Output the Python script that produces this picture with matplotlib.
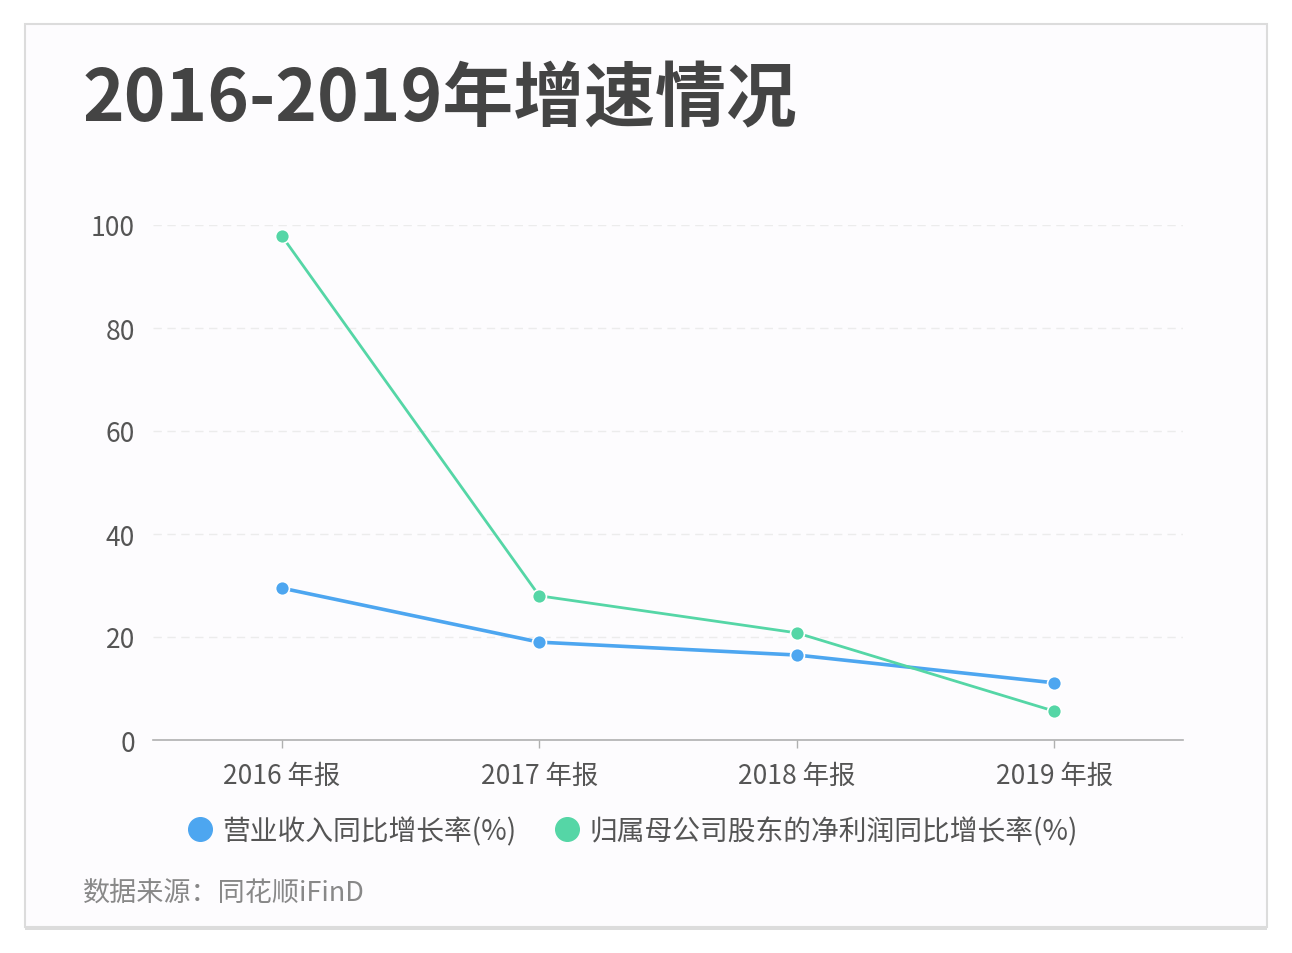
import matplotlib.pyplot as plt
import matplotlib.patches as mpatches
import matplotlib.patheffects as pe
from matplotlib.lines import Line2D

plt.rcParams["font.family"] = ["Noto Sans CJK SC", "DejaVu Sans"]

# Data
categories = ["2016 年报", "2017 年报", "2018 年报", "2019 年报"]
revenue_growth = [29.5, 19.0, 16.5, 11.1]
profit_growth = [97.9, 28.0, 20.8, 5.6]
series_names = ["营业收入同比增长率(%)", "归属母公司股东的净利润同比增长率(%)"]
y_ticks = [0, 20, 40, 60, 80, 100]

BLUE = "#4da6f0"
GREEN = "#55d6a6"
W, H = 1292, 954

fig = plt.figure(figsize=(W / 100, H / 100), dpi=100)
fig.patch.set_facecolor("white")

# card background with soft shadow
card = mpatches.Rectangle(
    (25 / W, 1 - 928 / H), (1267 - 25) / W, (928 - 25) / H,
    transform=fig.transFigure, facecolor="#fdfcfe", edgecolor="#dcdcdc",
    linewidth=1.5, zorder=-10,
    path_effects=[pe.withSimplePatchShadow(offset=(0, -2), shadow_rgbFace="#bbbbbb", alpha=0.5)],
)
fig.patches.append(card)

ax = fig.add_axes([153 / W, 1 - 741 / H, (1183 - 153) / W, (741 - 226) / H])
ax.set_facecolor("none")

x = range(len(categories))
ax.plot(x, revenue_growth, color=BLUE, lw=2.6, marker="o", ms=10,
        markeredgecolor="white", markeredgewidth=1.2, zorder=3, clip_on=False)
ax.plot(x, profit_growth, color=GREEN, lw=2.0, marker="o", ms=10,
        markeredgecolor="white", markeredgewidth=1.2, zorder=3, clip_on=False)

ax.set_xlim(-0.5, len(categories) - 0.5)
ax.set_ylim(0, 100)
ax.set_yticks(y_ticks)
ax.set_xticks(list(x))
ax.set_xticklabels(categories)

for s in ["top", "right", "left"]:
    ax.spines[s].set_visible(False)
ax.spines["bottom"].set_color("#b0b0b0")
ax.spines["bottom"].set_linewidth(1.2)

ax.tick_params(axis="y", length=0, pad=13, labelsize=19, labelcolor="#555555")
ax.tick_params(axis="x", length=6, width=1, color="#b0b0b0", pad=10,
               labelsize=19, labelcolor="#555555")
ax.grid(axis="y", color="#ececec", lw=1, ls=(0, (6, 4)))
ax.set_axisbelow(True)

# title
fig.text(83 / W, 1 - 100 / H, "2016-2019年增速情况", fontsize=51, fontweight="bold",
         color="#444444", va="center", ha="left")

# legend
handles = [
    Line2D([], [], ls="none", marker="o", ms=17, color=BLUE),
    Line2D([], [], ls="none", marker="o", ms=17, color=GREEN),
]
fig.legend(handles, series_names, loc="center", bbox_to_anchor=(632 / W, 1 - 832 / H),
           ncol=2, frameon=False, fontsize=20, labelcolor="#555555",
           handletextpad=0.3, columnspacing=1.3, handlelength=1.0)

# source
fig.text(83 / W, 1 - 893 / H, "数据来源：同花顺iFinD", fontsize=19.5, color="#888888",
         va="center", ha="left")

fig.savefig("out.png", dpi=100)
